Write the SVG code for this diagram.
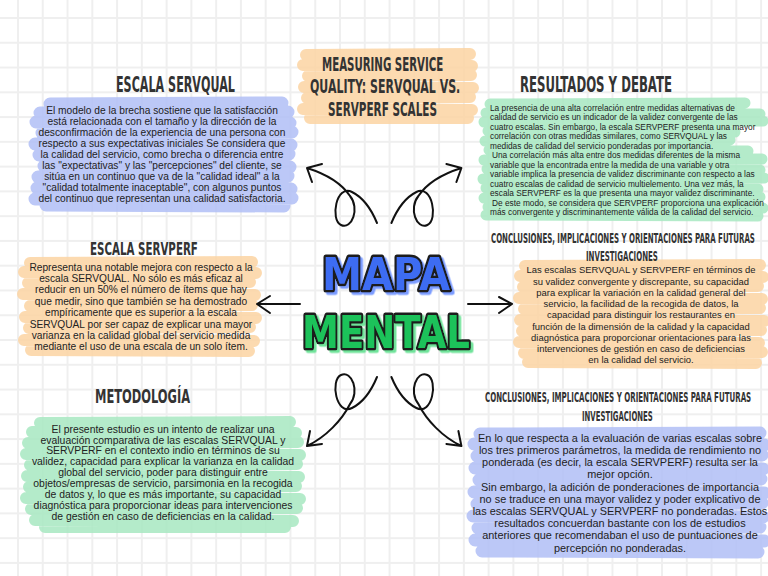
<svg xmlns="http://www.w3.org/2000/svg" width="768" height="576" viewBox="0 0 768 576">
<defs>
<pattern id="grid" patternUnits="userSpaceOnUse" x="17" y="17" width="24.77" height="24.77">
<path d="M1 0V24.77M0 1H24.77" stroke="#efefef" stroke-width="2" fill="none"/>
</pattern>
<filter id="shB" x="-10%" y="-10%" width="130%" height="140%">
<feDropShadow dx="2.5" dy="2.5" stdDeviation="0" flood-color="#7b9cff"/>
</filter>
<filter id="shG" x="-10%" y="-10%" width="130%" height="140%">
<feDropShadow dx="2.5" dy="2.5" stdDeviation="0" flood-color="#6fe39a"/>
</filter>
<style>
.h{font-family:"DejaVu Sans Condensed","Liberation Sans Narrow",sans-serif;font-weight:bold;fill:#333;}
.b{font-family:"Liberation Sans",Arial,sans-serif;fill:#222;text-anchor:middle;}
.bl{font-family:"Liberation Sans",Arial,sans-serif;fill:#222;}
.hl{fill:none;stroke-linecap:round;stroke-linejoin:round;opacity:.85;}
.blue{stroke:#b0bef6;}
.green{stroke:#a7e7c1;}
.orange{stroke:#fcd4a2;}
.arr{fill:none;stroke:#111;stroke-width:2;stroke-linecap:round;stroke-linejoin:round;}
.big{font-family:"DejaVu Sans",sans-serif;font-weight:bold;font-size:45px;stroke:#1c1c1c;stroke-width:5;stroke-linejoin:round;paint-order:stroke;}
</style>
</defs>
<rect width="768" height="576" fill="#fff"/>
<rect width="768" height="576" fill="url(#grid)"/>

<g id="title">
<path class="hl orange" stroke-width="12" d="M306,55 L470,54 M303,65 L472,66 M308,76 L471,75 M304,87 L473,88 M307,98 L470,97 M303,109 L472,110 M310,118 L468,118"/>
<text class="h" font-size="19" transform="translate(322,71) scale(0.58,1)" textLength="209" lengthAdjust="spacingAndGlyphs">MEASURING SERVICE</text>
<text class="h" font-size="19" transform="translate(310,93) scale(0.58,1)" textLength="259" lengthAdjust="spacingAndGlyphs">QUALITY: SERVQUAL VS.</text>
<text class="h" font-size="19" transform="translate(328,116) scale(0.58,1)" textLength="188" lengthAdjust="spacingAndGlyphs">SERVPERF SCALES</text>
</g>

<g id="center">
<text class="big" x="322" y="290" fill="#3d6cf2" filter="url(#shB)" textLength="128" lengthAdjust="spacingAndGlyphs">MAPA</text>
<text class="big" x="302" y="348" fill="#1cc25a" filter="url(#shG)" textLength="168" lengthAdjust="spacingAndGlyphs">MENTAL</text>
</g>

<g id="servqual">
<path class="hl blue" stroke-width="13" d="M50,104 L282,103 M40,113 L288,112 M36,122 L290,123 M42,133 L292,132 M35,144 L291,145 M39,155 L289,154 M44,166 L290,167 M38,177 L288,176 M37,188 L291,189 M35,199 L292,198 M46,205 L284,206"/>
<text class="h" font-size="20.5" transform="translate(116,92) scale(0.58,1)" textLength="205" lengthAdjust="spacingAndGlyphs">ESCALA SERVQUAL</text>
<g class="b" font-size="10.2">
<text x="162" y="113.5">El modelo de la brecha sostiene que la satisfacción</text>
<text x="162" y="124.6">está relacionada con el tamaño y la dirección de la</text>
<text x="162" y="135.7">desconfirmación de la experiencia de una persona con</text>
<text x="162" y="146.8">respecto a sus expectativas iniciales Se considera que</text>
<text x="162" y="157.9">la calidad del servicio, como brecha o diferencia entre</text>
<text x="162" y="169">las "expectativas" y las "percepciones" del cliente, se</text>
<text x="162" y="180.1">sitúa en un continuo que va de la "calidad ideal" a la</text>
<text x="162" y="191.2">"calidad totalmente inaceptable", con algunos puntos</text>
<text x="162" y="202.3">del continuo que representan una calidad satisfactoria.</text>
</g>
</g>

<g id="resultados">
<path class="hl green" stroke-width="11" d="M490,104 L745,103 M486,113 L760,114 M484,122 L763,121 M488,131 L735,132 M485,141 L730,140 M489,150 L748,151 M484,160 L762,159 M487,169 L760,170 M483,179 L764,178 M486,188 L758,189 M484,198 L760,197 M488,207 L763,208 M486,215 L758,216"/>
<text class="h" font-size="20.5" transform="translate(520,92) scale(0.58,1)" textLength="262" lengthAdjust="spacingAndGlyphs">RESULTADOS Y DEBATE</text>
<g class="bl" font-size="8.3">
<text x="490" y="110.8">La presencia de una alta correlación entre medidas alternativas de</text>
<text x="490" y="120.3">calidad de servicio es un indicador de la validez convergente de las</text>
<text x="490" y="129.8">cuatro escalas. Sin embargo, la escala SERVPERF presenta una mayor</text>
<text x="490" y="139.3">correlación con otras medidas similares, como SERVQUAL y las</text>
<text x="490" y="148.8">medidas de calidad del servicio ponderadas por importancia.</text>
<text x="492" y="158.3">Una correlación más alta entre dos medidas diferentes de la misma</text>
<text x="490" y="167.8">variable que la encontrada entre la medida de una variable y otra</text>
<text x="490" y="177.3">variable implica la presencia de validez discriminante con respecto a las</text>
<text x="490" y="186.8">cuatro escalas de calidad de servicio multielemento. Una vez más, la</text>
<text x="490" y="196.3">escala SERVPERF es la que presenta una mayor validez discriminante.</text>
<text x="492" y="205.8">De este modo, se considera que SERVPERF proporciona una explicación</text>
<text x="490" y="215.3">más convergente y discriminantemente válida de la calidad del servicio.</text>
</g>
</g>

<g id="servperf">
<path class="hl orange" stroke-width="12" d="M30,263 L252,262 M24,272 L256,273 M28,283 L250,282 M23,294 L255,295 M30,306 L252,305 M25,317 L256,318 M29,328 L250,327 M24,340 L254,341 M31,350 L249,351"/>
<text class="h" font-size="18" transform="translate(90,255) scale(0.58,1)" textLength="186" lengthAdjust="spacingAndGlyphs">ESCALA SERVPERF</text>
<g class="b" font-size="10.2">
<text x="141" y="270.5">Representa una notable mejora con respecto a la</text>
<text x="141" y="281.9">escala SERVQUAL. No sólo es más eficaz al</text>
<text x="141" y="293.3">reducir en un 50% el número de ítems que hay</text>
<text x="141" y="304.7">que medir, sino que también se ha demostrado</text>
<text x="141" y="316.1">empíricamente que es superior a la escala</text>
<text x="141" y="327.5">SERVQUAL por ser capaz de explicar una mayor</text>
<text x="141" y="338.9">varianza en la calidad global del servicio medida</text>
<text x="141" y="350.3">mediante el uso de una escala de un solo ítem.</text>
</g>
</g>

<g id="conclusiones1">
<path class="hl orange" stroke-width="12" d="M525,266 L760,265 M520,276 L763,277 M523,287 L758,286 M519,298 L762,299 M524,309 L760,308 M520,320 L764,321 M522,331 L761,330 M519,342 L759,343 M524,353 L762,352 M528,362 L756,363"/>
<text class="h" font-size="13.5" transform="translate(491,243) scale(0.58,1)" textLength="455" lengthAdjust="spacingAndGlyphs">CONCLUSIONES, IMPLICACIONES Y ORIENTACIONES PARA FUTURAS</text>
<text class="h" font-size="13.5" transform="translate(586,261) scale(0.58,1)" textLength="124" lengthAdjust="spacingAndGlyphs">INVESTIGACIONES</text>
<g class="b" font-size="9.45">
<text x="641" y="273.3">Las escalas SERVQUAL y SERVPERF en términos de</text>
<text x="641" y="284.5">su validez convergente y discrepante, su capacidad</text>
<text x="641" y="295.8">para explicar la variación en la calidad general del</text>
<text x="641" y="307">servicio, la facilidad de la recogida de datos, la</text>
<text x="641" y="318.3">capacidad para distinguir los restaurantes en</text>
<text x="641" y="329.5">función de la dimensión de la calidad y la capacidad</text>
<text x="641" y="340.8">diagnóstica para proporcionar orientaciones para las</text>
<text x="641" y="352">intervenciones de gestión en caso de deficiencias</text>
<text x="641" y="363.3">en la calidad del servicio.</text>
</g>
</g>

<g id="metodologia">
<path class="hl green" stroke-width="12" d="M40,423 L290,422 M32,432 L296,433 M28,443 L298,442 M26,454 L300,455 M30,465 L297,464 M27,476 L299,477 M29,487 L296,486 M26,498 L300,499 M31,509 L297,508 M35,520 L293,521 M45,527 L285,527"/>
<text class="h" font-size="19" transform="translate(95,403) scale(0.58,1)" textLength="164" lengthAdjust="spacingAndGlyphs">METODOLOGÍA</text>
<g class="b" font-size="10.4">
<text x="163" y="432.6">El presente estudio es un intento de realizar una</text>
<text x="163" y="443.5">evaluación comparativa de las escalas SERVQUAL y</text>
<text x="163" y="454.4">SERVPERF en el contexto indio en términos de su</text>
<text x="163" y="465.3">validez, capacidad para explicar la varianza en la calidad</text>
<text x="163" y="476.2">global del servicio, poder para distinguir entre</text>
<text x="163" y="487.1">objetos/empresas de servicio, parsimonia en la recogida</text>
<text x="163" y="498">de datos y, lo que es más importante, su capacidad</text>
<text x="163" y="508.9">diagnóstica para proporcionar ideas para intervenciones</text>
<text x="163" y="519.8">de gestión en caso de deficiencias en la calidad.</text>
</g>
</g>

<g id="conclusiones2">
<path class="hl blue" stroke-width="13" d="M480,434 L760,433 M474,444 L764,445 M477,456 L762,455 M475,468 L763,469 M479,480 L761,479 M474,492 L764,493 M477,504 L762,503 M473,516 L763,517 M478,528 L760,527 M475,540 L764,541 M482,551 L758,552"/>
<text class="h" font-size="13.5" transform="translate(485,402) scale(0.58,1)" textLength="459" lengthAdjust="spacingAndGlyphs">CONCLUSIONES, IMPLICACIONES Y ORIENTACIONES PARA FUTURAS</text>
<text class="h" font-size="13.5" transform="translate(582,421) scale(0.58,1)" textLength="122" lengthAdjust="spacingAndGlyphs">INVESTIGACIONES</text>
<g class="b" font-size="10.9">
<text x="620" y="441.8">En lo que respecta a la evaluación de varias escalas sobre</text>
<text x="620" y="454">los tres primeros parámetros, la medida de rendimiento no</text>
<text x="620" y="466.2">ponderada (es decir, la escala SERVPERF) resulta ser la</text>
<text x="620" y="478.4">mejor opción.</text>
<text x="620" y="490.6">Sin embargo, la adición de ponderaciones de importancia</text>
<text x="620" y="502.8">no se traduce en una mayor validez y poder explicativo de</text>
<text x="620" y="515">las escalas SERVQUAL y SERVPERF no ponderadas. Estos</text>
<text x="620" y="527.2">resultados concuerdan bastante con los de estudios</text>
<text x="620" y="539.4">anteriores que recomendaban el uso de puntuaciones de</text>
<text x="620" y="551.6">percepción no ponderadas.</text>
</g>
</g>

<g id="connectors" class="arr">
<path d="M377,223 C370,206 360,196 352,192 C336,184 330,220 341,225 C352,230 360,208 350,196 C342,184 326,174 307,168 M322,164 L307,168 L312,182"/>
<path transform="translate(768.4,0) scale(-1,1)" d="M377,223 C370,206 360,196 352,192 C336,184 330,220 341,225 C352,230 360,208 350,196 C342,184 326,174 307,168 M322,164 L307,168 L312,182"/>
<path d="M377,377 C370,394 360,404 352,408 C336,416 330,380 341,375 C352,370 360,392 350,404 C342,420 326,437 307,446 M322,444 L307,446 L310,431"/>
<path transform="translate(768.4,0) scale(-1,1)" d="M377,377 C370,394 360,404 352,408 C336,416 330,380 341,375 C352,370 360,392 350,404 C342,420 326,437 307,446 M322,444 L307,446 L310,431"/>
<path d="M300,304 L257,304 M270,296 L257,304 L270,313"/>
<path d="M468,304 L512,304 M499,297 L512,304 L499,313"/>
</g>
</svg>
